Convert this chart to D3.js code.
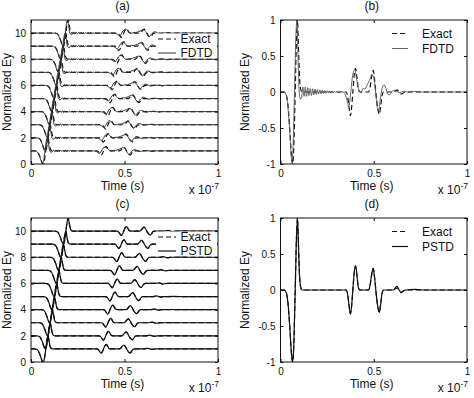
<!DOCTYPE html>
<html>
<head>
<meta charset="utf-8">
<script src="https://cdn.jsdelivr.net/npm/d3@7"></script>
<style>
  body { margin: 0; background: #fff; }
  svg { display: block; font-family: "Liberation Sans", Arial, sans-serif; }
</style>
</head>
<body>
<svg id="chart" width="474" height="398"></svg>
<script>
// time axis is in units of 1e-7 s
const timeTicks = [0, 0.5, 1];
const stackTicks = [0, 2, 4, 6, 8, 10];
const singleTicks = [-1, -0.5, 0, 0.5, 1];

// observation points in (a)/(c): baseline level and arrival delay
const traceLevels = [1, 2, 3, 4, 5, 6, 7, 8, 9, 10];
const traceShift = [0, 0.012, 0.024, 0.035, 0.047, 0.059, 0.071, 0.083, 0.095, 0.108];

// exact solution at the first point, [time, Ey]
const exactTrace = [
  [0, 0], [0.02, 0], [0.03, -0.03], [0.04, -0.18], [0.05, -0.52], [0.058, -0.86], [0.065, -1],
  [0.071, -0.78], [0.078, -0.1], [0.085, 0.68], [0.091, 1], [0.096, 0.65], [0.102, 0.2],
  [0.109, 0.03], [0.116, 0], [0.352, 0], [0.36, -0.06], [0.367, -0.2], [0.375, -0.33],
  [0.382, -0.2], [0.389, 0.04], [0.396, 0.26], [0.403, 0.33], [0.41, 0.2], [0.417, 0.04],
  [0.425, 0], [0.472, 0], [0.48, 0.06], [0.488, 0.2], [0.497, 0.3], [0.505, 0.16],
  [0.513, -0.05], [0.521, -0.22], [0.53, -0.31], [0.537, -0.2], [0.545, -0.04], [0.553, 0],
  [0.608, 0], [0.617, 0.02], [0.626, 0.03], [0.636, 0], [0.648, -0.03], [0.66, -0.01],
  [0.672, 0], [1, 0]
];

// FDTD result (with numerical ringing)
const fdtdTrace = [
  [0, 0], [0.02, 0], [0.03, -0.04], [0.04, -0.22], [0.05, -0.57], [0.057, -0.88], [0.062, -0.97],
  [0.068, -0.72], [0.075, 0], [0.082, 0.75], [0.088, 1], [0.093, 0.6], [0.1, 0], [0.107, -0.1],
  [0.113, -0.08], [0.12, 0.07], [0.1265, -0.06], [0.133, 0.07], [0.1395, -0.06], [0.146, 0.06],
  [0.1525, -0.05], [0.159, 0.05], [0.1655, -0.05], [0.172, 0.045], [0.1785, -0.04], [0.185, 0.04],
  [0.1915, -0.035], [0.198, 0.035], [0.2045, -0.03], [0.211, 0.03], [0.2175, -0.025], [0.224, 0.025],
  [0.2305, -0.02], [0.237, 0.02], [0.2435, -0.02], [0.25, 0.018], [0.2565, -0.015], [0.263, 0.015],
  [0.2695, -0.012], [0.276, 0.012], [0.2825, -0.01], [0.289, 0.01], [0.2955, -0.01], [0.302, 0.008],
  [0.31, -0.008], [0.32, 0.005], [0.335, 0], [0.345, -0.02], [0.355, -0.1], [0.366, -0.2],
  [0.375, -0.05], [0.385, 0.2], [0.398, 0.31], [0.41, 0.15], [0.422, 0.02], [0.432, -0.01],
  [0.442, 0.05], [0.452, 0.04], [0.465, 0.1], [0.475, 0.15], [0.49, 0.24], [0.5, 0.2],
  [0.51, 0], [0.518, -0.2], [0.525, -0.27], [0.535, -0.1], [0.545, 0.05], [0.555, 0.1],
  [0.565, 0.05], [0.575, -0.03], [0.585, -0.04], [0.595, 0], [0.605, 0.02], [0.62, 0.01],
  [0.64, -0.01], [0.66, 0.01], [0.68, 0], [0.72, 0.008], [0.76, 0], [1, 0]
];

// PSTD result
const pstdTrace = [
  [0, 0], [0.02, 0], [0.03, -0.03], [0.04, -0.18], [0.05, -0.52], [0.058, -0.86], [0.065, -1],
  [0.071, -0.78], [0.078, -0.1], [0.085, 0.68], [0.091, 1], [0.096, 0.65], [0.102, 0.2],
  [0.109, 0.03], [0.116, 0], [0.352, 0], [0.36, -0.06], [0.367, -0.2], [0.375, -0.34],
  [0.382, -0.2], [0.389, 0.04], [0.396, 0.26], [0.403, 0.34], [0.41, 0.2], [0.417, 0.04],
  [0.425, 0], [0.472, 0], [0.48, 0.06], [0.488, 0.2], [0.497, 0.3], [0.505, 0.16],
  [0.513, -0.05], [0.521, -0.22], [0.53, -0.31], [0.537, -0.2], [0.545, -0.04], [0.553, 0],
  [0.605, 0], [0.615, 0.03], [0.625, 0.05], [0.636, 0], [0.648, -0.04], [0.66, -0.01],
  [0.672, 0], [0.72, 0.01], [0.76, 0], [1, 0]
];

const panels = [
  { title: "(a)", left: 31, right: 218, top: 20, bottom: 164, stacked: true, numeric: fdtdTrace, name: "FDTD", numColor: "#333", numWidth: 1 },
  { title: "(b)", left: 280.5, right: 467, top: 20, bottom: 164, stacked: false, numeric: fdtdTrace, name: "FDTD", numColor: "#555", numWidth: 0.9 },
  { title: "(c)", left: 31, right: 218, top: 218, bottom: 362, stacked: true, numeric: pstdTrace, name: "PSTD", numColor: "#111", numWidth: 1.2 },
  { title: "(d)", left: 280.5, right: 467, top: 218, bottom: 362, stacked: false, numeric: pstdTrace, name: "PSTD", numColor: "#111", numWidth: 1.2 }
];

const svg = d3.select("#chart");

function shifted(base, shift, level) {
  return [[0, level]].concat(base.slice(1).map(d => [d[0] + shift, level + d[1]]));
}

panels.forEach((p, pi) => {
  const x = d3.scaleLinear().domain([0, 1]).range([p.left, p.right]);
  const y = d3.scaleLinear().domain(p.stacked ? [0, 11] : [-1, 1]).range([p.bottom, p.top]);
  const line = d3.line().x(d => x(d[0])).y(d => y(d[1])).curve(d3.curveMonotoneX);

  const g = svg.append("g");
  const clipId = "clip" + pi;
  g.append("clipPath").attr("id", clipId)
    .append("rect")
    .attr("x", p.left).attr("y", p.top)
    .attr("width", p.right - p.left).attr("height", p.bottom - p.top);

  const plot = g.append("g").attr("clip-path", `url(#${clipId})`);

  let exactLines, numLines;
  if (p.stacked) {
    exactLines = traceLevels.map((lvl, i) => shifted(exactTrace, traceShift[i], lvl));
    numLines = traceLevels.map((lvl, i) => shifted(p.numeric, traceShift[i], lvl));
  } else {
    exactLines = [exactTrace];
    numLines = [p.numeric];
  }

  plot.selectAll("path.exact")
    .data(exactLines)
    .join("path")
    .attr("class", "exact")
    .attr("fill", "none")
    .attr("stroke", "#111")
    .attr("stroke-width", 1.2)
    .attr("stroke-dasharray", "5,3")
    .attr("d", line);

  plot.selectAll("path.num")
    .data(numLines)
    .join("path")
    .attr("class", "num")
    .attr("fill", "none")
    .attr("stroke", p.numColor)
    .attr("stroke-width", p.numWidth)
    .attr("d", line);

  // legend
  const leg = g.append("g");
  let rows, sx0, sx1, tx;
  if (p.stacked) {
    leg.append("rect")
      .attr("x", p.left + 125).attr("y", p.top + 13.5)
      .attr("width", p.right - p.left - 126).attr("height", 24)
      .attr("fill", "#fff");
    rows = [p.top + 19, p.top + 33];
    sx0 = p.left + 127; sx1 = p.left + 145; tx = p.left + 149.5;
  } else {
    rows = [p.top + 13.5, p.top + 28.5];
    sx0 = p.left + 111.5; sx1 = p.left + 127.5; tx = p.left + 141.5;
  }
  leg.append("line")
    .attr("x1", sx0).attr("x2", sx1).attr("y1", rows[0]).attr("y2", rows[0])
    .attr("stroke", "#111").attr("stroke-width", 1.2).attr("stroke-dasharray", "5,3");
  leg.append("line")
    .attr("x1", sx0).attr("x2", sx1).attr("y1", rows[1]).attr("y2", rows[1])
    .attr("stroke", p.numColor).attr("stroke-width", p.numWidth);
  leg.selectAll("text")
    .data(["Exact", p.name])
    .join("text")
    .attr("x", tx).attr("y", (d, i) => rows[i])
    .attr("dy", "0.35em")
    .attr("font-size", 12)
    .attr("fill", "#111")
    .text(d => d);

  // axes, MATLAB style with ticks inside on all sides
  const yTicks = p.stacked ? stackTicks : singleTicks;
  const fmt = d => String(d);

  const ax = g.append("g").attr("font-size", 12);
  ax.append("g")
    .attr("transform", `translate(0,${p.bottom})`)
    .call(d3.axisBottom(x).tickValues(timeTicks).tickFormat(fmt).tickSizeInner(-3).tickSizeOuter(0).tickPadding(6));
  ax.append("g")
    .attr("transform", `translate(0,${p.top})`)
    .call(d3.axisTop(x).tickValues(timeTicks).tickFormat("").tickSizeInner(-3).tickSizeOuter(0));
  ax.append("g")
    .attr("transform", `translate(${p.left},0)`)
    .call(d3.axisLeft(y).tickValues(yTicks).tickFormat(fmt).tickSizeInner(-3).tickSizeOuter(0).tickPadding(5));
  ax.append("g")
    .attr("transform", `translate(${p.right},0)`)
    .call(d3.axisRight(y).tickValues(yTicks).tickFormat("").tickSizeInner(-3).tickSizeOuter(0));
  ax.selectAll(".domain").remove();
  ax.selectAll("text").attr("fill", "#111").attr("font-family", "Liberation Sans, Arial, sans-serif");
  ax.selectAll(".tick line").attr("stroke", "#111");

  g.append("rect")
    .attr("x", p.left).attr("y", p.top)
    .attr("width", p.right - p.left).attr("height", p.bottom - p.top)
    .attr("fill", "none").attr("stroke", "#111").attr("stroke-width", 1);

  const cx = (p.left + p.right) / 2;
  g.append("text")
    .attr("x", cx - 2).attr("y", p.top - 10)
    .attr("text-anchor", "middle").attr("font-size", 12).attr("fill", "#111")
    .text(p.title);

  g.append("text")
    .attr("x", cx - 2).attr("y", p.bottom + 25.5)
    .attr("text-anchor", "middle").attr("font-size", 12).attr("fill", "#111")
    .text("Time (s)");

  const ex = g.append("text")
    .attr("x", p.right + 1).attr("y", p.bottom + 30)
    .attr("text-anchor", "end").attr("font-size", 12).attr("fill", "#111");
  ex.append("tspan").text("x 10");
  ex.append("tspan").attr("dy", -5).attr("font-size", 8.5).text("-7");

  const lx = p.left < 100 ? 11 : 249;
  g.append("text")
    .attr("transform", `translate(${lx},${(p.top + p.bottom) / 2}) rotate(-90)`)
    .attr("text-anchor", "middle").attr("font-size", 12).attr("fill", "#111")
    .text("Normalized Ey");
});
</script>
</body>
</html>
